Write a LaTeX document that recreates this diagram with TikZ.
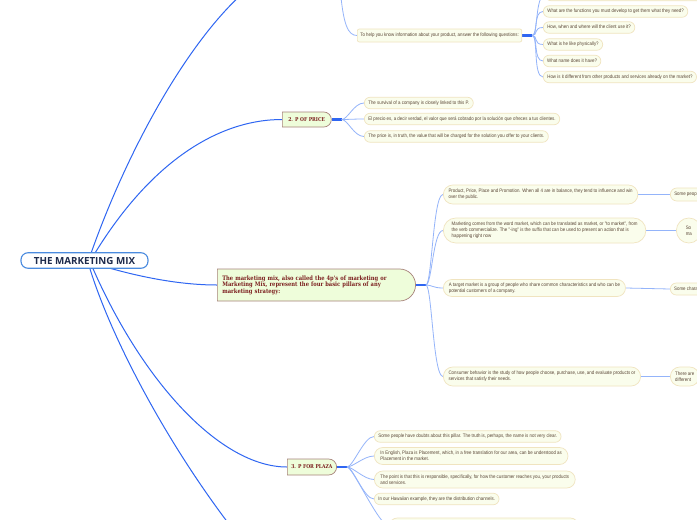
\documentclass[tikz,border=0pt]{standalone}
\usepackage{fontspec}
\usetikzlibrary{shapes.misc,calc}
\newfontfamily\leaffont[FakeStretch=0.88]{Liberation Sans}
\newfontfamily\headfont[FakeStretch=0.85]{DejaVu Serif}
\newfontfamily\rootfont{Open Sans}
\definecolor{mainblue}{RGB}{47,102,242}
\definecolor{childblue}{RGB}{148,180,250}
\definecolor{rootborder}{RGB}{74,139,223}
\definecolor{roottext}{RGB}{30,43,76}
\definecolor{leaffill}{RGB}{250,253,236}
\definecolor{leafborder}{RGB}{240,228,192}
\definecolor{leaftext}{RGB}{90,70,54}
\definecolor{headfill}{RGB}{238,253,218}
\definecolor{headborder}{RGB}{167,131,122}
\definecolor{headtext}{RGB}{123,30,30}
\pgfdeclarelayer{back}
\pgfdeclarelayer{bg}
\pgfsetlayers{back,bg,main}
\tikzset{
  leaf/.style={rounded rectangle, draw=leafborder, fill=leaffill, line width=0.7pt,
    text=leaftext, font=\leaffont\fontsize{5}{6.2}\selectfont, align=left,
    inner xsep=3.5pt, inner ysep=1pt, minimum height=11.5pt, anchor=west},
  qbox/.style={rectangle, rounded corners=2pt, draw=leafborder, fill=leaffill, line width=0.7pt,
    text=leaftext, font=\leaffont\fontsize{5}{6.2}\selectfont,
    inner xsep=3pt, inner ysep=1pt, minimum height=13pt, anchor=west},
  head/.style={rounded rectangle, rounded rectangle west arc=none, draw=headborder, fill=headfill,
    line width=0.7pt, text=headtext, font=\headfont\bfseries\fontsize{5.3}{6.5}\selectfont,
    align=left, inner ysep=1pt, anchor=west},
  rootbox/.style={rectangle, rounded corners=7pt, draw=rootborder, line width=1.1pt, fill=white,
    text=roottext, font=\rootfont\bfseries\fontsize{9.8}{11}\selectfont},
  mainline/.style={draw=mainblue, line width=1pt},
  childline/.style={draw=childblue, line width=0.8pt},
  hubline/.style={draw=mainblue, line width=2.2pt},
}
\begin{document}
\begin{tikzpicture}[x=1pt,y=-1pt]
\useasboundingbox (0,0) rectangle (697,520);
\clip (0,0) rectangle (697,520);
\begin{pgfonlayer}{back}
\fill[white] (0,0) rectangle (697,520);
\end{pgfonlayer}

% root
\node[rootbox, minimum width=127pt, minimum height=15.5pt] (root) at (84.5,260.5) {THE MARKETING MIX};

% product questions
\node[qbox] (help) at (357,35.5) {To help you know information about your product, answer the following questions:};
\node[leaf, minimum width=175pt] (q0) at (545,-5) {};
\node[leaf] (q1) at (543,11.5) {What are the functions you must develop to get them what they need?};
\node[leaf] (q2) at (543,27.5) {How, when and where will the client use it?};
\node[leaf] (q3) at (543,44.5) {What is he like physically?};
\node[leaf] (q4) at (543,61) {What name does it have?};
\node[leaf] (q5) at (543,77) {How is it different from other products and services already on the market?};

% price
\node[head, minimum height=15pt, inner xsep=6pt] (price) at (282,119.5) {2. P OF PRICE};
\node[leaf] (p1) at (364,103) {The survival of a company is closely linked to this P.};
\node[leaf] (p2) at (364,119) {El precio es, a decir verdad, el valor que será cobrado por la solución que ofreces a tus clientes.};
\node[leaf] (p3) at (364,136.5) {The price is, in truth, the value that will be charged for the solution you offer to your clients.};

% marketing mix
\node[head, minimum height=32pt, inner xsep=5pt, text width=185pt,
  font=\headfont\bfseries\fontsize{6.1}{6.6}\selectfont] (mix) at (217,285)
  {The marketing mix, also called the 4p's of marketing or\\Marketing Mix, represent the four basic pillars of any\\marketing strategy:};
\node[leaf, minimum height=19pt] (m1) at (443,194.5) {Product, Price, Place and Promotion. When all 4 are in balance, they tend to influence and win\\over the public.};
\node[leaf, minimum height=25pt, inner xsep=5pt] (m2) at (443,230.5) {Marketing comes from the word market, which can be translated as market, or "to market", from\\the verb commercialize. The "-ing" is the suffix that can be used to present an action that is\\happening right now};
\node[leaf, minimum height=17pt] (m3) at (443,288) {A target market is a group of people who share common characteristics and who can be\\potential customers of a company.};
\node[leaf, minimum height=19pt] (m4) at (443,376.5) {Consumer behavior is the study of how people choose, purchase, use, and evaluate products or\\services that satisfy their needs.};
\node[leaf, minimum height=13pt] (r1) at (670,194.5) {Some people};
\node[leaf, minimum height=25pt, inner xsep=4pt] (r2) at (676,230.5) {So\\ma};
\node[leaf, minimum height=12pt] (r3) at (670,289) {Some characteristics};
\node[leaf, minimum height=19pt] (r4) at (670,376.5) {There are\\different};

% plaza
\node[head, minimum height=16pt, inner xsep=4pt] (plaza) at (287,467) {3. P FOR PLAZA};
\node[leaf] (z1) at (374,436.5) {Some people have doubts about this pillar. The truth is, perhaps, the name is not very clear.};
\node[leaf, minimum height=17pt, inner xsep=4.5pt] (z2) at (374,456) {In English, Plaza is Placement, which, in a free translation for our area, can be understood as\\Placement in the market.};
\node[leaf, minimum height=17pt, inner xsep=4.5pt] (z3) at (374,479.5) {The point is that this is responsible, specifically, for how the customer reaches you, your products\\and services.};
\node[leaf] (z4) at (374,499) {In our Hawaiian example, they are the distribution channels.};
\node[leaf, minimum width=196pt, minimum height=16pt] (zb) at (389,526) {};

\begin{pgfonlayer}{bg}
\coordinate (prodoff) at (262,-22);
\coordinate (prodoff2) at (340,-14);
\coordinate (botoff) at (262,565);
\draw[mainline] ([xshift=4pt]root.center) .. controls (130,140) and (200,20) .. (prodoff);
\draw[mainline] ([xshift=6pt]root.center) .. controls (150,160) and (220,119.5) .. (price.west);
\draw[mainline] (root.center) .. controls (135,277) and (180,285) .. (mix.west);
\draw[mainline] ([xshift=5pt]root.center) .. controls (140,380) and (220,467) .. (plaza.west);
\draw[mainline] ([xshift=3pt]root.center) .. controls (110,340) and (180,470) .. (botoff);
\draw[childline] (prodoff2) .. controls (343,25) and (348,35.5) .. (help.west);

\draw[hubline] (help.east) -- ++(10,0) coordinate (hH);
\foreach \c in {q0,q1,q2,q3,q4,q5}
  \draw[childline] (hH) .. controls +(6,0) and +(-10,0) .. (\c.west);
\draw[hubline] (price.east) -- ++(10,0) coordinate (hP);
\foreach \c in {p1,p2,p3}
  \draw[childline] (hP) .. controls +(6,0) and +(-10,0) .. (\c.west);
\draw[hubline] (mix.east) -- ++(10,0) coordinate (hM);
\foreach \c in {m1,m2,m3,m4}
  \draw[childline] (hM) .. controls +(6,0) and +(-10,0) .. (\c.west);
\draw[childline] (m1.east) -- (r1.west);
\draw[childline] (m2.east) -- (r2.west);
\draw[childline] (m3.east) -- (r3.west);
\draw[childline] (m4.east) -- (r4.west);
\draw[hubline] (plaza.east) -- ++(10,0) coordinate (hZ);
\foreach \c in {z1,z2,z3,z4,zb}
  \draw[childline] (hZ) .. controls +(6,0) and +(-10,0) .. (\c.west);
\end{pgfonlayer}
\end{tikzpicture}
\end{document}
